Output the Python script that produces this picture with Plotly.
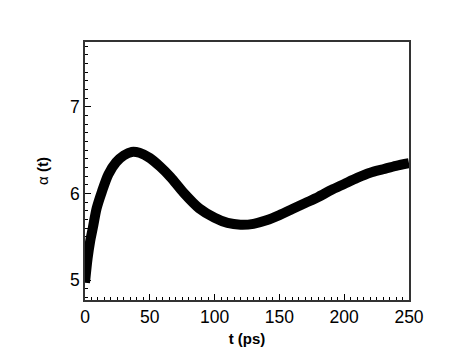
import plotly.graph_objects as go

t_ps = [0, 2, 4, 6, 9, 13, 18, 24, 30, 36, 42, 50, 58, 66, 76, 88, 100, 110, 120,
        130, 140, 150, 160, 170, 180, 190, 200, 210, 220, 230, 240, 250]
alpha = [4.97, 5.25, 5.45, 5.60, 5.83, 6.02, 6.22, 6.36, 6.44, 6.48, 6.47, 6.41, 6.31,
         6.19, 6.01, 5.83, 5.72, 5.66, 5.64, 5.65, 5.69, 5.75, 5.82, 5.89, 5.96, 6.04,
         6.11, 6.18, 6.24, 6.28, 6.32, 6.35]
x_ticks = [0, 50, 100, 150, 200, 250]
y_ticks = [5, 6, 7]

fig = go.Figure()
fig.add_trace(go.Scatter(x=t_ps, y=alpha, mode="lines",
                         line=dict(color="black", width=10, shape="spline", smoothing=0.8)))

font = dict(family="Liberation Sans, Arial", size=17.5, color="black")
fig.update_layout(
    width=474, height=362,
    margin=dict(l=85, r=65, t=42, b=62),
    paper_bgcolor="white", plot_bgcolor="white",
    showlegend=False,
    font=font,
)
fig.update_xaxes(range=[0, 250], tickvals=x_ticks, ticks="inside", ticklen=6,
                 tickcolor="black", showline=True, linecolor="#333", linewidth=1.5,
                 mirror=True, showgrid=False, zeroline=False,
                 minor=dict(dtick=5, ticks="inside", ticklen=3, tickcolor="black"),
                 title=dict(text="<b>t (ps)</b>", font=dict(size=15), standoff=8))
fig.update_yaxes(range=[4.77, 7.75], tickvals=y_ticks, ticks="inside", ticklen=6,
                 tickcolor="black", showline=True, linecolor="#333", linewidth=1.5,
                 mirror=True, showgrid=False, zeroline=False,
                 minor=dict(dtick=0.1, ticks="inside", ticklen=3, tickcolor="black"),
                 title=dict(text="α <b>(t)</b>", font=dict(size=15), standoff=18))

fig.write_html("out.html", config={"displayModeBar": False},
               post_script="document.body.style.margin='0';")
